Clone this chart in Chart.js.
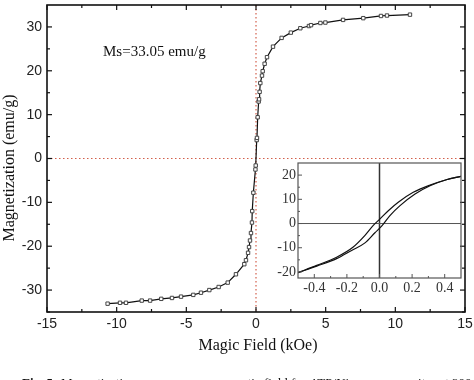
<!DOCTYPE html>
<html><head><meta charset="utf-8">
<script src="https://cdn.jsdelivr.net/npm/chart.js@4.4.1/dist/chart.umd.min.js"></script>
<style>
html,body{margin:0;padding:0;background:#fff;overflow:hidden}
#wrap{position:relative;width:474px;height:380px}
#main{position:absolute;left:0;top:0}
#inset{position:absolute;left:266px;top:158px}
</style></head>
<body><div id="wrap"><canvas id="main" width="474" height="380"></canvas><canvas id="inset" width="197" height="140"></canvas></div>
<script>
// ---- data ----
const fieldKOe = [-10.65,-9.76,-9.33,-8.2,-7.6,-6.8,-6.03,-5.38,-4.5,-3.95,
  -3.35,-2.68,-2.03,-1.44,-0.84,-0.72,-0.57,-0.5,-0.43,-0.36,
  -0.29,-0.27,-0.19,-0.04,-0.02,0.05,0.07,0.12,0.19,0.22,
  0.26,0.31,0.43,0.48,0.62,0.79,1.22,1.84,2.5,3.18,
  3.8,3.95,4.62,4.98,6.25,7.7,8.97,9.4,11.05];
const magnetization = [-33.1,-32.9,-32.9,-32.4,-32.4,-32.0,-31.8,-31.5,-31.1,-30.6,
  -30.0,-29.3,-28.3,-26.4,-24.1,-23.2,-21.5,-20.2,-18.7,-17.0,
  -14.6,-12.0,-7.8,-2.5,-1.6,4.2,4.7,9.4,13.0,13.5,
  15.2,17.2,18.9,19.9,21.6,23.1,25.5,27.5,28.7,29.7,
  30.2,30.4,30.9,31.0,31.6,32.0,32.5,32.6,32.8];
const insetUpperX = [-0.5,-0.385,-0.263,-0.161,-0.089,-0.038,0.003,0.054,0.115,0.207,0.31,0.41,0.5];
const insetUpperY = [-20.3,-17.3,-13.9,-9.7,-4.9,-0.8,1.9,5.3,8.8,12.9,15.9,18.1,19.5];
const insetLowerX = [-0.5,-0.385,-0.263,-0.171,-0.089,-0.028,0.013,0.064,0.126,0.218,0.31,0.41,0.5];
const insetLowerY = [-20.3,-17.6,-14.5,-11.1,-8.0,-3.8,-1.1,3.3,7.4,12.2,15.6,18.1,19.5];
const mainXTicks = [-15,-10,-5,0,5,10,15];
const mainYTicks = [-30,-20,-10,0,10,20,30];
const insetXTicks = [-0.4,-0.2,0.0,0.2,0.4];
const insetYTicks = [-20,-10,0,10,20];
const xTitle = 'Magic Field (kOe)';
const yTitle = 'Magnetization (emu/g)';
const msLabel = 'Ms=33.05 emu/g';
const captionBold = 'Fig. 5';
const captionText = 'Magnetization curves versus magnetic field for ATP/Ni nanocomposites at 300 K';

const SANS = '"Liberation Sans", Arial, sans-serif';
const SERIF = '"Liberation Serif", "Times New Roman", serif';

function toPts(xs, ys){ return xs.map((x,i)=>({x:x, y:ys[i]})); }
function keepTicks(list){ return s => { s.ticks = list.map(v=>({value:v})); }; }
function fitW(w){ return s => { s.width = w; s.paddingTop = 0; s.paddingBottom = 0; }; }
function fitH(h){ return s => { s.height = h; s.paddingLeft = 0; s.paddingRight = 0; }; }

function drawTicks(ctx, scale, a, values, len, side){
  values.forEach(v=>{
    const p = scale.getPixelForValue(v);
    ctx.beginPath();
    if (side==='bottom'){ ctx.moveTo(p,a.bottom); ctx.lineTo(p,a.bottom-len); }
    if (side==='top'){ ctx.moveTo(p,a.top); ctx.lineTo(p,a.top+len); }
    if (side==='left'){ ctx.moveTo(a.left,p); ctx.lineTo(a.left+len,p); }
    if (side==='right'){ ctx.moveTo(a.right,p); ctx.lineTo(a.right-len,p); }
    ctx.stroke();
  });
}

const mainDecor = {
  id:'mainDecor',
  beforeDatasetsDraw(chart){
    const {ctx, chartArea:a, scales:{x,y}} = chart;
    ctx.save();
    ctx.strokeStyle = 'rgb(210,95,75)';
    ctx.lineWidth = 1.2;
    ctx.setLineDash([1.5,2.5]);
    const x0 = x.getPixelForValue(0), y0 = y.getPixelForValue(0);
    ctx.beginPath(); ctx.moveTo(x0,a.top); ctx.lineTo(x0,a.bottom); ctx.stroke();
    ctx.beginPath(); ctx.moveTo(a.left,y0); ctx.lineTo(a.right,y0); ctx.stroke();
    ctx.restore();
  },
  afterDraw(chart){
    const {ctx, chartArea:a, scales:{x,y}} = chart;
    ctx.save();
    ctx.strokeStyle = '#111';
    ctx.lineWidth = 1.6;
    ctx.strokeRect(a.left, a.top, a.right-a.left, a.bottom-a.top);
    ctx.lineWidth = 1.2;
    const xMinor = mainXTicks.slice(0,-1).map(v=>v+2.5);
    const yMinor = [-35,-25,-15,-5,5,15,25];
    ['bottom','top'].forEach(s=>{ drawTicks(ctx,x,a,mainXTicks,5,s); drawTicks(ctx,x,a,xMinor,3,s); });
    ['left','right'].forEach(s=>{ drawTicks(ctx,y,a,mainYTicks,5,s); drawTicks(ctx,y,a,yMinor,3,s); });
    ctx.fillStyle = '#111';
    ctx.font = '16px ' + SERIF;
    ctx.textAlign = 'center'; ctx.textBaseline = 'middle';
    ctx.fillText(xTitle, 258, 346);
    ctx.save(); ctx.translate(10, 168); ctx.rotate(-Math.PI/2); ctx.fillText(yTitle, 0, 0); ctx.restore();
    ctx.font = '15px ' + SERIF;
    ctx.textAlign = 'left';
    ctx.fillText(msLabel, 103, 52);
    ctx.textBaseline = 'top';
    ctx.font = 'bold 13px ' + SERIF;
    ctx.fillText(captionBold, 22, 377);
    const w = ctx.measureText(captionBold).width;
    ctx.font = '13px ' + SERIF;
    ctx.fillText(captionText, 22 + w + 8, 377);
    ctx.restore();
  }
};

new Chart(document.getElementById('main'), {
  type:'line',
  data:{datasets:[{
    data: toPts(fieldKOe, magnetization),
    borderColor:'#111', borderWidth:1.2, tension:0, fill:false,
    pointStyle:'rect', pointRadius:2.4, pointBackgroundColor:'#fff',
    pointBorderColor:'#444', pointBorderWidth:1
  }]},
  options:{
    responsive:false, animation:false, devicePixelRatio:1,
    layout:{padding:{top:1,right:9,bottom:0,left:0}},
    plugins:{legend:{display:false}, tooltip:{enabled:false}},
    scales:{
      x:{type:'linear', min:-15, max:15,
        afterBuildTicks: keepTicks(mainXTicks),
        afterFit: fitH(68),
        grid:{display:false, drawTicks:false}, border:{display:false},
        ticks:{padding:4, color:'#222', font:{family:SANS, size:14}, maxRotation:0, autoSkip:false}},
      y:{type:'linear', min:-35, max:35,
        afterBuildTicks: keepTicks(mainYTicks),
        afterFit: fitW(47),
        grid:{display:false, drawTicks:false}, border:{display:false},
        ticks:{padding:5, color:'#222', font:{family:SANS, size:14}, autoSkip:false}}
    }
  },
  plugins:[mainDecor]
});

const insetDecor = {
  id:'insetDecor',
  beforeDatasetsDraw(chart){
    const {ctx, chartArea:a, scales:{x,y}} = chart;
    ctx.save();
    const x0 = x.getPixelForValue(0), y0 = y.getPixelForValue(0);
    ctx.strokeStyle = '#333'; ctx.lineWidth = 1.5;
    ctx.beginPath(); ctx.moveTo(x0,a.top); ctx.lineTo(x0,a.bottom); ctx.stroke();
    ctx.strokeStyle = '#555'; ctx.lineWidth = 1;
    ctx.beginPath(); ctx.moveTo(a.left,y0); ctx.lineTo(a.right,y0); ctx.stroke();
    ctx.restore();
  },
  afterDraw(chart){
    const {ctx, chartArea:a, scales:{x,y}} = chart;
    ctx.save();
    ctx.strokeStyle = '#555'; ctx.lineWidth = 1.2;
    ctx.strokeRect(a.left, a.top, a.right-a.left, a.bottom-a.top);
    ctx.lineWidth = 1;
    drawTicks(ctx,x,a,insetXTicks,4,'bottom');
    drawTicks(ctx,x,a,[-0.3,-0.1,0.1,0.3],2,'bottom');
    drawTicks(ctx,y,a,insetYTicks,4,'left');
    drawTicks(ctx,y,a,[-15,-5,5,15],2,'left');
    ctx.restore();
  }
};

new Chart(document.getElementById('inset'), {
  type:'line',
  data:{datasets:[
    {data: toPts(insetUpperX, insetUpperY), borderColor:'#111', borderWidth:1.2, pointRadius:0, fill:false, cubicInterpolationMode:'monotone'},
    {data: toPts(insetLowerX, insetLowerY), borderColor:'#111', borderWidth:1.2, pointRadius:0, fill:false, cubicInterpolationMode:'monotone'}
  ]},
  options:{
    responsive:false, animation:false, devicePixelRatio:1,
    layout:{padding:{top:5,right:2,bottom:0,left:0}},
    plugins:{legend:{display:false}, tooltip:{enabled:false}},
    scales:{
      x:{type:'linear', min:-0.5, max:0.5,
        afterBuildTicks: keepTicks(insetXTicks),
        afterFit: fitH(20),
        grid:{display:false, drawTicks:false}, border:{display:false},
        ticks:{padding:2, color:'#333', font:{family:SERIF, size:14}, maxRotation:0, autoSkip:false,
          callback: v => v.toFixed(1)}},
      y:{type:'linear', min:-22.5, max:25,
        afterBuildTicks: keepTicks(insetYTicks),
        afterFit: fitW(32),
        grid:{display:false, drawTicks:false}, border:{display:false},
        ticks:{padding:2, color:'#333', font:{family:SERIF, size:14}, autoSkip:false}}
    }
  },
  plugins:[insetDecor]
});
</script>
</body></html>
